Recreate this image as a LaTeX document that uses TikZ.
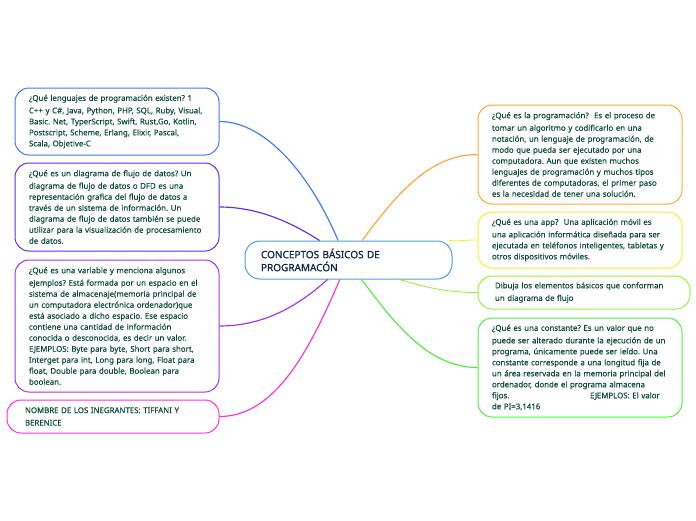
\documentclass[tikz,border=0pt]{standalone}
\usepackage{fontspec}
\setmainfont[WordSpace=0.85,FakeBold=0.25]{Noto Sans}
\newfontfamily\rootfont[FakeBold=0.9]{Noto Sans}
\frenchspacing
\definecolor{leaftext}{HTML}{0B4A38}
\definecolor{roottext}{HTML}{12264F}
\definecolor{rootline}{HTML}{4E9FD8}
\definecolor{langline}{HTML}{3C78FA}
\definecolor{flowline}{HTML}{5F2EEA}
\definecolor{varline}{HTML}{A62FF0}
\definecolor{nameline}{HTML}{FF2FD8}
\definecolor{progline}{HTML}{FFA733}
\definecolor{appline}{HTML}{F4F02E}
\definecolor{drawline}{HTML}{9AF23A}
\definecolor{constline}{HTML}{4CF03A}
\begin{document}
\begin{tikzpicture}[x=1pt,y=-1pt,
leaf/.style={draw,rectangle,rounded corners=14pt,line width=1pt,inner xsep=14pt,inner ysep=0pt,
  text width=176pt,align=left,text=leaftext,font=\fontsize{7.85}{11}\selectfont\frenchspacing,
  execute at begin node={\vspace{1.5pt}}},
root/.style={draw=rootline,rectangle,rounded corners=15pt,line width=1pt,inner xsep=16pt,inner ysep=0pt,
  text width=175pt,minimum height=38pt,align=left,text=roottext,font=\rootfont\fontsize{10}{13}\selectfont},
branch/.style={line width=1.15pt},
twig/.style={line width=.9pt}]

\useasboundingbox (0,0) rectangle (696,520);

\draw (348.5,260) node[root] (concept) {CONCEPTOS BÁSICOS DE\\PROGRAMACÓN};

\draw (117,121.5) node[leaf,draw=langline,minimum height=67pt] (lang) {¿Qué lenguajes de programación existen? 1\\C++ y C\#, Java, Python, PHP, SQL, Ruby, Visual,\\Basic. Net, TyperScript, Swift, Rust,Go, Kotlin,\\Postscript, Scheme, Erlang, Elixir, Pascal,\\Scala, Objetive-C};
\draw (117,207) node[leaf,draw=flowline,minimum height=88pt] (flow) {¿Qué es un diagrama de flujo de datos? Un\\diagrama de flujo de datos o DFD es una\\representación grafica del flujo de datos a\\través de un sistema de información. Un\\diagrama de flujo de datos también se puede\\utilizar para la visualización de procesamiento\\de datos.};
\draw (117,326) node[leaf,draw=varline,minimum height=132pt] (var) {¿Qué es una variable y menciona algunos\\ejemplos? Está formada por un espacio en el\\sistema de almacenaje(memoria principal de\\un computadora electrónica ordenador)que\\está asociado a dicho espacio. Ese espacio\\contiene una cantidad de información\\conocida o desconocida, es decir un valor.\\EJEMPLOS: Byte para byte, Short para short,\\Interget para int, Long para long, Float para\\float, Double para double, Boolean para\\boolean.};
\draw (113,416.5) node[leaf,draw=nameline,minimum height=33pt,inner xsep=18pt,text width=176pt] (names) {NOMBRE DE LOS INEGRANTES: TIFFANI Y\\BERENICE};

\draw (580,154.5) node[leaf,draw=progline,minimum height=99pt] (prog) {¿Qué es la programación?~ Es el proceso de\\tomar un algoritmo y codificarlo en una\\notación, un lenguaje de programación, de\\modo que pueda ser ejecutado por una\\computadora. Aun que existen muchos\\lenguajes de programación y muchos tipos\\diferentes de computadoras, el primer paso\\es la necesidad de tener una solución.};
\draw (580,240) node[leaf,draw=appline,minimum height=56pt] (app) {¿Qué es una app?~ Una aplicación móvil es\\una aplicación informática diseñada para ser\\ejecutada en teléfonos inteligentes, tabletas y\\otros dispositivos móviles.};
\draw (584,292.5) node[leaf,draw=drawline,minimum height=33pt,inner xsep=17pt,text width=178pt] (basics) {Dibuja los elementos básicos que conforman\\un diagrama de flujo};
\draw (580,367.5) node[leaf,draw=constline,minimum height=99pt] (const) {¿Qué es una constante? Es un valor que no\\puede ser alterado durante la ejecución de un\\programa, únicamente puede ser leído. Una\\constante corresponde a una longitud fija de\\un área reservada en la memoria principal del\\ordenador, donde el programa almacena\\\makebox[98pt][l]{fijos.}EJEMPLOS: El valor\\de PI=3,1416};

\draw[branch,langline] (lang.0) .. controls +(46,0) and +(-28,-66) .. (concept.118.9);
\draw[branch,flowline] (flow.0) .. controls +(41,0) and +(-25,-16) .. (concept.146.3);
\draw[branch,varline] (var.0) .. controls +(46,0) and +(-28,25) .. (concept.-137.2);
\draw[branch,nameline] (names.0) .. controls +(56,0) and +(-30,70) .. (concept.-114.1);
\draw[branch,progline] (prog.180) .. controls +(-48,0) and +(34,-46) .. (concept.55.6);
\draw[twig,appline] (app.180) .. controls +(-18,0) and +(14,1) .. (concept.11.6);
\draw[twig,drawline] (basics.180) .. controls +(-33,0) and +(24,7) .. (concept.-21.6);
\draw[branch,constline] (const.180) .. controls +(-48,0) and +(34,46) .. (concept.-56.7);

\end{tikzpicture}
\end{document}
